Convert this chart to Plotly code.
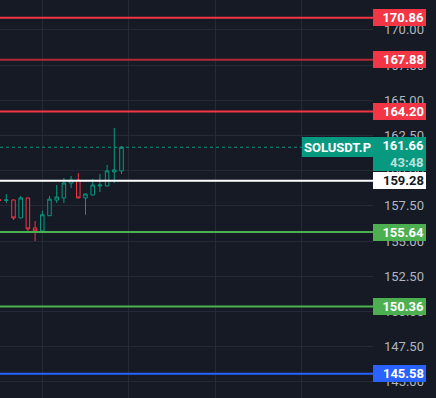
import plotly.graph_objects as go

# ---- data ----
idx = list(range(18))
opens  = [157.93, 157.89, 157.92, 156.64, 158.06, 155.93, 155.72, 156.80, 157.91, 158.06,
          159.12, 159.34, 158.06, 158.27, 158.91, 158.91, 159.91, 159.98]
highs  = [157.96, 158.34, 157.94, 158.20, 158.08, 156.42, 157.15, 158.20, 158.98, 159.48,
          159.62, 159.83, 158.36, 159.41, 159.76, 160.40, 163.03, 161.75]
lows   = [157.86, 157.70, 156.50, 156.62, 155.58, 155.00, 155.70, 156.78, 157.70, 157.70,
          158.77, 158.04, 156.87, 158.25, 158.48, 158.89, 159.12, 159.76]
closes = [157.90, 157.92, 156.64, 158.06, 155.86, 155.72, 156.87, 157.98, 158.13, 159.12,
          159.34, 158.06, 158.34, 158.98, 158.98, 159.98, 160.05, 161.66]

level_prices = [170.86, 167.88, 164.20, 159.28, 155.64, 150.36, 145.58]
level_line_colors = ["#F23645", "#B22833", "#F23645", "#FFFFFF", "#4CAF50", "#4CAF50", "#2962FF"]
level_tag_colors = ["#F23645", "#F23645", "#F23645", "#FFFFFF", "#4CAF50", "#4CAF50", "#2962FF"]
level_text_colors = ["#FFFFFF", "#FFFFFF", "#FFFFFF", "#131722", "#FFFFFF", "#FFFFFF", "#FFFFFF"]

symbol = "SOLUSDT.P"
last_price = 161.66
countdown = "43:48"

BG = "#161A25"
GRID = "#262A36"
UP = "#089981"
DOWN = "#F23645"
FONT = "Roboto"
DOM_END = 373 / 436

fig = go.Figure()
fig.add_trace(go.Candlestick(
    x=idx, open=opens, high=highs, low=lows, close=closes,
    increasing=dict(line=dict(color=UP, width=1), fillcolor=BG),
    decreasing=dict(line=dict(color=DOWN, width=1), fillcolor=BG),
    whiskerwidth=0, hoverinfo="skip", showlegend=False,
))

# level lines
for p, c in zip(level_prices, level_line_colors):
    fig.add_shape(type="line", xref="x domain", x0=0, x1=1, yref="y", y0=p, y1=p,
                  line=dict(color=c, width=2), layer="above")

# last price dotted line
fig.add_shape(type="line", xref="x domain", x0=0, x1=1, yref="y", y0=last_price, y1=last_price,
              line=dict(color=UP, width=1, dash="dot"), layer="above")

# level tags
for p, bg, tc in zip(level_prices, level_tag_colors, level_text_colors):
    fig.add_annotation(xref="paper", x=DOM_END, xanchor="left", yref="y", y=p, yanchor="middle",
                       text="<b>%.2f</b>" % p, showarrow=False, align="right",
                       width=49, height=13, borderpad=2, borderwidth=0, bgcolor=bg,
                       font=dict(family=FONT, size=13, color=tc))

# current price tag
fig.add_annotation(xref="paper", x=DOM_END, xanchor="left", yref="y", y=last_price, yanchor="top",
                   yshift=10,
                   text="<b>%.2f</b><br><span style='color:rgba(255,255,255,0.72)'><b>%s</b></span>" % (last_price, countdown),
                   showarrow=False, align="right",
                   width=49, height=30, borderpad=2, borderwidth=0, bgcolor=UP,
                   font=dict(family=FONT, size=13, color="#FFFFFF"))
fig.add_annotation(xref="paper", x=DOM_END, xanchor="right", yref="y", y=last_price, yanchor="top",
                   yshift=10, text="<b>%s</b>" % symbol, showarrow=False, align="center",
                   width=67, height=16, borderpad=2, borderwidth=0, bgcolor=UP,
                   font=dict(family=FONT, size=13, color="#FFFFFF"))

fig.update_layout(
    width=436, height=398,
    margin=dict(l=0, r=0, t=0, b=0),
    paper_bgcolor=BG, plot_bgcolor=BG,
    showlegend=False,
    xaxis=dict(domain=[0, DOM_END], range=[0.125, 51.93], rangeslider=dict(visible=False),
               tickmode="array", tickvals=[6, 18, 30, 42], showticklabels=False,
               showgrid=True, gridcolor=GRID, gridwidth=1, zeroline=False, showline=False),
    yaxis=dict(side="right", range=[143.855, 172.117], tick0=145, dtick=2.5, tickformat=".2f",
               showgrid=True, gridcolor=GRID, gridwidth=1, zeroline=False, showline=False,
               ticks="", ticklabelstandoff=10,
               tickfont=dict(family=FONT, size=13, color="#B2B5BE")),
)

fig.write_html("out.html")
